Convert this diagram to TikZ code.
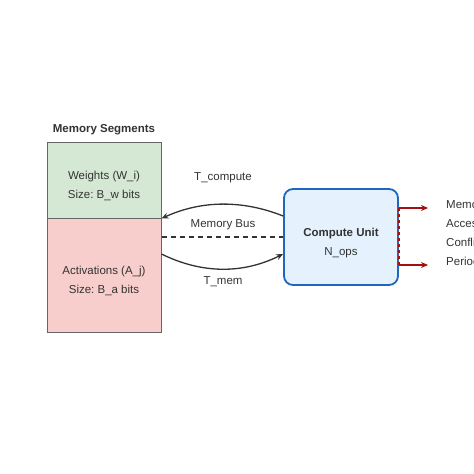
\documentclass[tikz,border=0pt]{standalone}
\usepackage{fontspec}
\setmainfont{Liberation Sans}
\frenchspacing
\usepackage{tikz}
\usetikzlibrary{positioning}
\usetikzlibrary{arrows.meta}
\definecolor{segline}{HTML}{666666}
\definecolor{wfill}{HTML}{D5E8D4}
\definecolor{afill}{HTML}{F8CECC}
\definecolor{cufill}{HTML}{E5F1FD}
\definecolor{culine}{HTML}{1E66BE}
\definecolor{outred}{HTML}{A50F0F}
\definecolor{txt}{HTML}{333333}
\tikzset{%
  every label text/.style={
    text=txt,
    font=\fontsize{11.5}{19}\selectfont
  },
  segment/.style={
    draw=segline,
    line width=1pt,
    minimum width=114pt,
    inner sep=0pt
  },
  compute box/.style={
    draw=culine,
    fill=cufill,
    line width=1.8pt,
    rounded corners=9pt,
    minimum width=114pt,
    minimum height=96pt
  },
  box text/.style={
    every label text,
    align=center,
    yshift=-6pt
  },
  bus/.style={
    draw=txt,
    line width=1.3pt
  },
  conflict arrow/.style={
    draw=outred,
    line width=1.3pt
  },
}

\begin{document}
\begin{tikzpicture}[> = {Stealth[length=7pt,width=6pt]}, x=1pt, y=-1pt]
\useasboundingbox (0,0) rectangle (474,474);
    % memory segments
    \node[every label text, font=\fontsize{11.5}{14}\selectfont\bfseries] (memtitle) at (104,130) {Memory Segments};
    \node[segment, fill=wfill, minimum height=76pt] (wseg) at (104,180) {};
    \node[segment, fill=afill, minimum height=114pt] (aseg) at (104,275) {};
    \node[box text] (wtext) at (wseg.center) {Weights (W\_i)\\Size: B\_w bits};
    \node[box text] (atext) at (aseg.center) {Activations (A\_j)\\Size: B\_a bits};

    % compute unit
    \node[compute box] (cu) at (341,237) {};
    \node[box text] (cutext) at (cu.center) {\textbf{Compute Unit}\\N\_ops};

    % bus between them
    \draw[bus, ->] ([yshift=21pt]cu.west) .. controls (243,200) and (202,200) .. (wseg.south east);
    \draw[bus, ->] ([yshift=21pt]aseg.east) .. controls (202,274) and (243,274) .. ([yshift=-17pt]cu.west);
    \draw[bus, dash pattern=on 5pt off 4pt] (aseg.east |- cu.west) -- (cu.west);
    \node[every label text] (tcomp) at (223,178) {T\_compute};
    \node[every label text] (busname) at (223,225) {Memory Bus};
    \node[every label text] (tmem) at (223,282) {T\_mem};

    % conflict outputs
    \coordinate (out1) at (428,208);
    \coordinate (out2) at (428,265);
    \draw[conflict arrow, ->] (cu.east |- out1) -- (out1);
    \draw[conflict arrow, ->] (cu.east |- out2) -- (out2);
    \draw[conflict arrow, dash pattern=on 3pt off 3pt] (cu.east |- out1) -- (cu.east |- out2);
    \node[every label text, anchor=north west, align=left, inner sep=0pt] (conflict) at (446,200) {Memory\\Access\\Conflict\\Period};
\end{tikzpicture}
\end{document}
